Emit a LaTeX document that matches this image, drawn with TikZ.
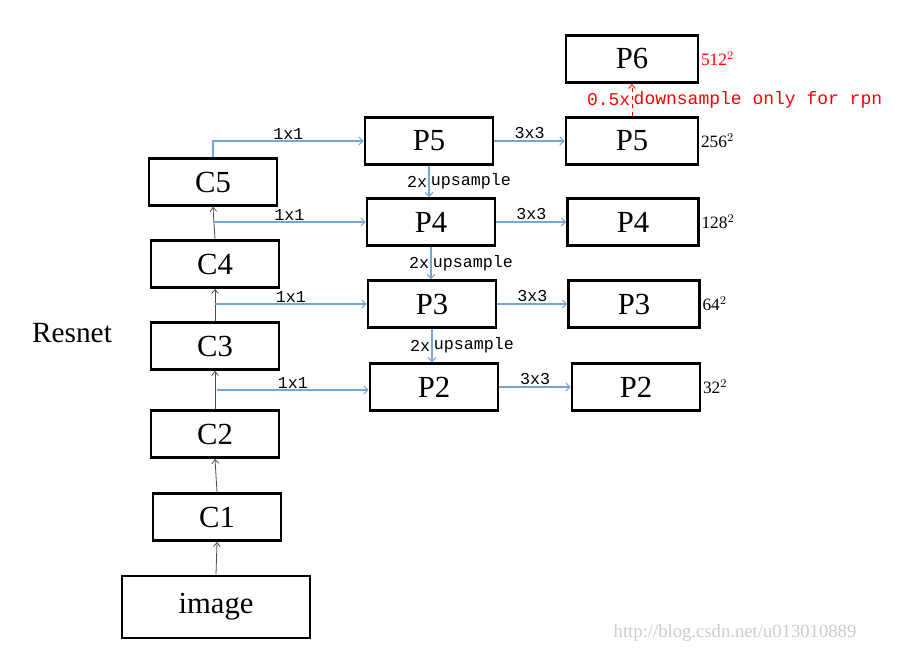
\documentclass[tikz,border=0pt]{standalone}
\usepackage{fontspec}
\setmainfont{Liberation Serif}
\newfontfamily\monof{Liberation Mono}
\usetikzlibrary{arrows.meta}
\begin{document}
\begin{tikzpicture}[x=0.75pt,y=-0.75pt,
 box/.style={draw,line width=2.1pt,minimum width=128*0.75pt,minimum height=47*0.75pt,inner sep=0,font=\fontsize{23}{24}\selectfont},
 up/.style={draw=black!70,line width=0.6pt,-{Straight Barb[length=3pt,width=5pt]}},
 blue/.style={draw={rgb,255:red,120;green,165;blue,215},line width=0.8pt,-{Straight Barb[length=3pt,width=6pt]}},
 lab/.style={font=\monof\fontsize{12.5}{13}\selectfont,inner sep=1pt},
 sz/.style={font=\fontsize{13}{14}\selectfont,anchor=west,inner sep=1pt}]
\useasboundingbox (0,0) rectangle (902,648);
\node[box,minimum width=188*0.75pt,minimum height=62*0.75pt] (img) at (216,607) {image};
\node[box] (c1) at (217,517) {C1};
\node[box] (c2) at (215,434) {C2};
\node[box] (c3) at (215,346) {C3};
\node[box] (c4) at (215,264) {C4};
\node[box] (c5) at (213,182) {C5};
\node[box] (p5) at (429,141) {P5};
\node[box] (p4) at (431,222) {P4};
\node[box] (p3) at (432,304) {P3};
\node[box] (p2) at (434,387) {P2};
\node[box,minimum width=132*0.75pt] (q6) at (632,59) {P6};
\node[box,minimum width=132*0.75pt] (q5) at (632,141) {P5};
\node[box,minimum width=131*0.75pt] (q4) at (633,222) {P4};
\node[box,minimum width=131*0.75pt] (q3) at (634,304) {P3};
\node[box] (q2) at (636,387) {P2};
\node[font=\fontsize{22}{23}\selectfont] (res) at (72,333) {Resnet};
\draw[up] (img.north) -- (c1.south);
\draw[up] (c1.north) -- (c2.south);
\draw[up] (c2.north) -- (c3.south);
\draw[up] (c3.north) -- (c4.south);
\draw[up] (c4.north) -- (c5.south);
\coordinate (l2) at (217,390); \coordinate (l3) at (215,304);
\coordinate (l4) at (213,222);
\draw[blue] (c5.north) |- (p5.west) node[lab,above,pos=0.75] {1x1};
\draw[blue] (l4) -- (p4.west) node[lab,above,midway] {1x1};
\draw[blue] (l3) -- (p3.west) node[lab,above,midway] {1x1};
\draw[blue] (l2) -- (p2.west|-l2) node[lab,above,midway] {1x1};
\draw[blue] (p5.east) -- (q5.west) node[lab,above,midway] {3x3};
\draw[blue] (p4.east) -- (q4.west) node[lab,above,midway] {3x3};
\draw[blue] (p3.east) -- (q3.west) node[lab,above,midway] {3x3};
\draw[blue] (p2.east) -- (q2.west) node[lab,above,midway] {3x3};
\draw[blue] (p5.south) -- (p5.south|-p4.north) node[lab,midway,left] {2x} node[lab,midway,right] {upsample};
\draw[blue] (p4.south) -- (p4.south|-p3.north) node[lab,midway,left] {2x} node[lab,midway,right] {upsample};
\draw[blue] (p3.south) -- (p3.south|-p2.north) node[lab,midway,left] {2x} node[lab,midway,right] {upsample};
\draw[red,dashed,line width=0.6pt,-{Straight Barb[length=3pt,width=5pt]}] (q5.north) -- (q6.south)
  node[lab,text=red,midway,left,font=\monof\fontsize{13.5}{14}\selectfont] {0.5x}
  node[lab,text=red,midway,right,font=\monof\fontsize{13.5}{14}\selectfont] {downsample only for rpn};
\node[sz,text=red] (s6) at (q6.east) {512$^2$};
\node[sz] (s5) at (q5.east) {256$^2$};
\node[sz] (s4) at (q4.east) {128$^2$};
\node[sz] (s3) at (q3.east) {64$^2$};
\node[sz] (s2) at (q2.east) {32$^2$};
\node[text=black!20,font=\fontsize{14}{15}\selectfont] (wm) at (735,633) {http://blog.csdn.net/u013010889};
\end{tikzpicture}
\end{document}
